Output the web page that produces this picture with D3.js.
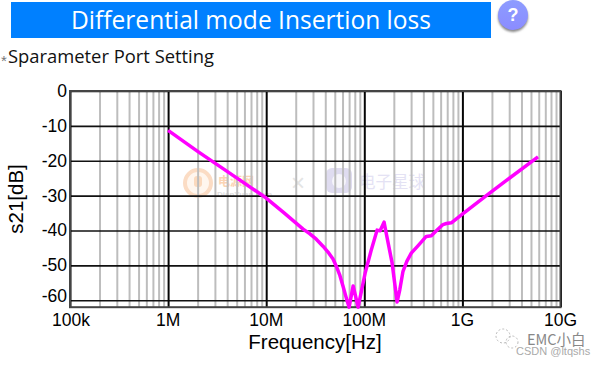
<!DOCTYPE html>
<html><head><meta charset="utf-8">
<script src="https://cdn.jsdelivr.net/npm/d3@7/dist/d3.min.js"></script>
<style>html,body{margin:0;padding:0;background:#fff}svg{display:block}</style>
</head><body><svg id="c" width="606" height="366"></svg>
<script>
const titleText = "Differential mode Insertion loss";
const subtitleText = "Sparameter Port Setting";
const xLabel = "Frequency[Hz]";
const yLabel = "s21[dB]";
const xMajor = [1e5,1e6,1e7,1e8,1e9,1e10];
const xMajorLabels = ["100k","1M","10M","100M","1G","10G"];
const yTicks = [0,-10,-20,-30,-40,-50,-60];
const freq = [1e6,2e6,5e6,1e7,15e6,23.8e6,27.7e6,32.4e6,37.9e6,42.7e6,48e6,51.9e6,56.1e6,60.7e6,65.6e6,70e6,77e6,86.5e6,102e6,117e6,135e6,145e6,159e6,167e6,192e6,216e6,230e6,248e6,272e6,301e6,352e6,428e6,482e6,542e6,634e6,686e6,771e6,1e9,1.74e9,2.79e9,5.9e9];
const s21 = [-11.3,-17.3,-24.9,-30.7,-34.8,-39.6,-40.9,-42.5,-44.5,-46.2,-48.2,-50.3,-52.7,-56,-59.4,-62,-55.9,-62,-52.2,-45.9,-39.9,-40.1,-37.6,-40.7,-49.3,-60.5,-57,-51.7,-48.8,-46.5,-44.4,-41.7,-41.5,-40.1,-38.3,-38,-37.8,-35.3,-30.1,-25.7,-18.9];

const svg = d3.select("#c");
const x = d3.scaleLog().domain([1e5,1e10]).range([70,560.5]);
const y = d3.scaleLinear().domain([0,-62]).range([91,307.2]);
const xMinor = [];
xMajor.slice(0,-1).forEach(d=>{for(let k=2;k<10;k++)xMinor.push(d*k);});

const sans = "'Liberation Sans',Arial,sans-serif";
const ui = "'Open Sans','Noto Sans',sans-serif";
const cjk = "'Noto Sans CJK SC',sans-serif";

// header
svg.append("rect").attr("x",11).attr("y",2).attr("width",480).attr("height",36).attr("fill","#0080ff");
svg.append("text").attr("x",71).attr("y",29).attr("fill","#fff").attr("textLength",360).attr("lengthAdjust","spacingAndGlyphs")
  .attr("font-family",ui).attr("font-size",26).text(titleText);
svg.append("text").attr("x",1).attr("y",66).attr("fill","#777").attr("font-size",15).attr("font-family",sans).text("*");
svg.append("text").attr("x",8).attr("y",63).attr("fill","#111").attr("textLength",206).attr("lengthAdjust","spacingAndGlyphs")
  .attr("font-family",ui).attr("font-size",18.5).text(subtitleText);
const defs = svg.append("defs");
const g = defs.append("linearGradient").attr("id","btn").attr("x1",0).attr("x2",0).attr("y1",0).attr("y2",1);
g.append("stop").attr("offset","0").attr("stop-color","#8d9cff");
g.append("stop").attr("offset","1").attr("stop-color","#8b8cff");
defs.append("filter").attr("id","blur").append("feGaussianBlur").attr("stdDeviation",1.2);
svg.append("circle").attr("cx",513).attr("cy",17).attr("r",15).attr("fill","#888").attr("filter","url(#blur)");
svg.append("circle").attr("cx",513).attr("cy",15).attr("r",15).attr("fill","url(#btn)");
svg.append("text").attr("x",513).attr("y",21).attr("text-anchor","middle").attr("fill","#fff")
  .attr("font-family",sans).attr("font-weight","bold").attr("font-size",18).text("?");

// watermark
svg.append("circle").attr("cx",198).attr("cy",183).attr("r",13).attr("fill","#fff6ee").attr("stroke","#fbdcc4").attr("stroke-width",4);
svg.append("rect").attr("x",194).attr("y",176).attr("width",8).attr("height",11).attr("rx",3).attr("fill","#fbd9bd");
svg.append("text").attr("x",218).attr("y",186).attr("fill","#fbd4b4").attr("font-family",cjk).attr("font-size",12).attr("font-weight","bold").text("电源网");
svg.append("text").attr("x",217).attr("y",197).attr("fill","#dedede").attr("font-family",sans).attr("font-size",8).attr("font-weight","bold").text("DianYuan.com");
svg.append("text").attr("x",298).attr("y",191).attr("text-anchor","middle").attr("fill","#e4e4e4").attr("font-family",sans).attr("font-size",24).text("×");
svg.append("rect").attr("x",326).attr("y",168).attr("width",26).attr("height",25).attr("rx",6).attr("fill","#dfdcf0");
svg.append("circle").attr("cx",339).attr("cy",181).attr("r",7).attr("fill","#fff").attr("fill-opacity",.75);
svg.append("text").attr("x",359).attr("y",188).attr("fill","#e4e2f4").attr("font-family",cjk).attr("font-size",16.5).text("电子星球");

// grid via axes
const plotW = x.range()[1]-x.range()[0], plotH = y.range()[1]-y.range()[0];
const grid = (sel,col,w)=>{sel.select(".domain").remove();sel.selectAll("text").remove();sel.selectAll("line").attr("stroke",col).attr("stroke-width",w);};
svg.append("g").attr("transform",`translate(0,${y.range()[1]})`)
  .call(d3.axisBottom(x).tickValues(xMinor).tickSize(-plotH).tickFormat("")).call(grid,"#bdbdbd",2);
svg.append("g").attr("transform",`translate(${x.range()[0]},0)`)
  .call(d3.axisLeft(y).tickValues(yTicks).tickSize(-plotW).tickFormat("")).call(grid,"#111",1.7);
svg.append("g").attr("transform",`translate(0,${y.range()[1]})`)
  .call(d3.axisBottom(x).tickValues(xMajor).tickSize(-plotH).tickFormat("")).call(grid,"#050505",2);
svg.append("rect").attr("x",x.range()[0]).attr("y",y.range()[0]).attr("width",plotW).attr("height",plotH)
  .attr("fill","none").attr("stroke","#444").attr("stroke-width",2);

// labels
svg.append("g").attr("font-family",sans).attr("font-size",17.5).attr("fill","#000").attr("text-anchor","end")
  .selectAll("text").data(yTicks).join("text")
  .attr("x",67).attr("y",d=>d===-60?y(d)+1.5:y(d)+6).text(d=>d);
svg.append("g").attr("font-family",sans).attr("font-size",17.5).attr("fill","#000").attr("text-anchor","middle")
  .selectAll("text").data(xMajor).join("text")
  .attr("x",(d,i)=>i===0?x(d)+1:x(d)).attr("y",325.5).text((d,i)=>xMajorLabels[i]);
svg.append("text").attr("x",315).attr("y",349).attr("text-anchor","middle").attr("font-family",sans).attr("font-size",20.5).attr("fill","#000").text(xLabel);
svg.append("text").attr("transform","translate(23,199) rotate(-90)").attr("text-anchor","middle").attr("font-family",sans).attr("font-size",20.5).attr("fill","#000").text(yLabel);

// curve
svg.append("path").attr("fill","none").attr("stroke","#ff00ff").attr("stroke-width",3.5).attr("stroke-linejoin","round")
  .attr("d",d3.line().x((d,i)=>x(freq[i])).y(d=>y(d))(s21));

// corner stamp
svg.append("text").attr("x",527).attr("y",345).attr("fill","#888").attr("font-family",cjk).attr("font-size",14.5).text("EMC小白");
svg.append("text").attr("x",516).attr("y",355).attr("fill","#aaa").attr("font-family",sans).attr("font-size",11).text("CSDN @ltqshs");
svg.append("circle").attr("cx",503).attr("cy",336).attr("r",7).attr("fill","none").attr("stroke","#bbb").attr("stroke-dasharray","2 2");
svg.append("circle").attr("cx",512).attr("cy",342).attr("r",6).attr("fill","none").attr("stroke","#bbb").attr("stroke-dasharray","2 2");
</script></body></html>
